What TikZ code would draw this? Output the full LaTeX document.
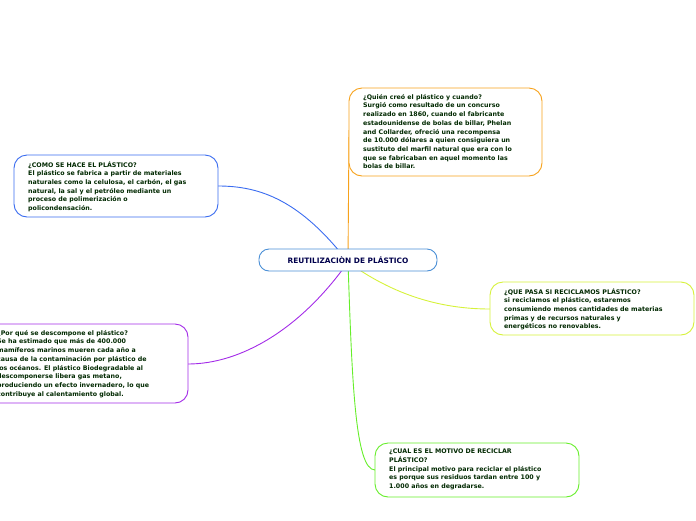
\documentclass[tikz,border=0pt]{standalone}
\usepackage{fontspec}
\setmainfont{DejaVu Sans}
\begin{document}
\begin{tikzpicture}[x=1pt,y=-1pt,
 box/.style={draw,line width=0.9pt,rounded corners=13pt,inner sep=0pt},
 txt/.style={anchor=north west,align=left,font=\fontsize{6.3}{8.7}\selectfont\bfseries,text=black!60!green!40!black,inner sep=0pt},
 con/.style={line width=0.9pt}]
\useasboundingbox (0,0) rectangle (696,520);
\definecolor{cor}{HTML}{F7A21B}\definecolor{cbl}{HTML}{3A6CF0}\definecolor{cpu}{HTML}{A32BE8}
\definecolor{cye}{HTML}{D6F23A}\definecolor{cgr}{HTML}{66EE2A}\definecolor{cce}{HTML}{4A8FD6}
\coordinate (c) at (348,262);
% connectors
\draw[con,cor] (c) -- (349,130);
\draw[con,cbl] (c) .. controls (300,200) and (260,186) .. (218,186);
\draw[con,cpu] (c) .. controls (300,330) and (240,364) .. (188,364);
\draw[con,cye] (c) .. controls (400,300) and (450,309) .. (490,309);
\draw[con,cgr] (c) .. controls (352,380) and (355,470) .. (375,470);
% boxes
\draw[box,cce,fill=white,rounded corners=10pt] (259,249) rectangle (437,271);
\node[font=\fontsize{7.4}{8}\selectfont\bfseries,text=blue!30!black] (center) at (348,260.5) {REUTILIZACIÒN DE PLÁSTICO};
\draw[box,cor,fill=white] (349,88) rectangle (542,176);
\node[txt] (top) at (363,94) {¿Quién creó el plástico y cuando?\\Surgió como resultado de un concurso\\realizado en 1860, cuando el fabricante\\estadounidense de bolas de billar, Phelan\\and Collarder, ofreció una recompensa\\de 10.000 dólares a quien consiguiera un\\sustituto del marfil natural que era con lo\\que se fabricaban en aquel momento las\\bolas de billar.};
\draw[box,cye,fill=white] (490,282) rectangle (694,335);
\node[txt] (right) at (504,288) {¿QUE PASA SI RECICLAMOS PLÁSTICO?\\si reciclamos el plástico, estaremos\\consumiendo menos cantidades de materias\\primas y de recursos naturales y\\energéticos no renovables.};
\draw[box,cgr,fill=white] (375,443) rectangle (579,497);
\node[txt] (bottom) at (389,449) {¿CUAL ES EL MOTIVO DE RECICLAR\\PLÁSTICO?\\El principal motivo para reciclar el plástico\\es porque sus residuos tardan entre 100 y\\1.000 años en degradarse.};
\draw[box,cbl,fill=white] (14,155) rectangle (218,217);
\node[txt] (lt) at (28,161) {¿COMO SE HACE EL PLÁSTICO?\\El plástico se fabrica a partir de materiales\\naturales como la celulosa, el carbón, el gas\\natural, la sal y el petróleo mediante un\\proceso de polimerización o\\policondensación.};
\draw[box,cpu,fill=white] (-14,324) rectangle (188,403);
\node[txt] (lb) at (-3,330) {¿Por qué se descompone el plástico?\\Se ha estimado que más de 400.000\\mamíferos marinos mueren cada año a\\causa de la contaminación por plástico de\\los océanos. El plástico Biodegradable al\\descomponerse libera gas metano,\\produciendo un efecto invernadero, lo que\\contribuye al calentamiento global.};
\end{tikzpicture}
\end{document}
